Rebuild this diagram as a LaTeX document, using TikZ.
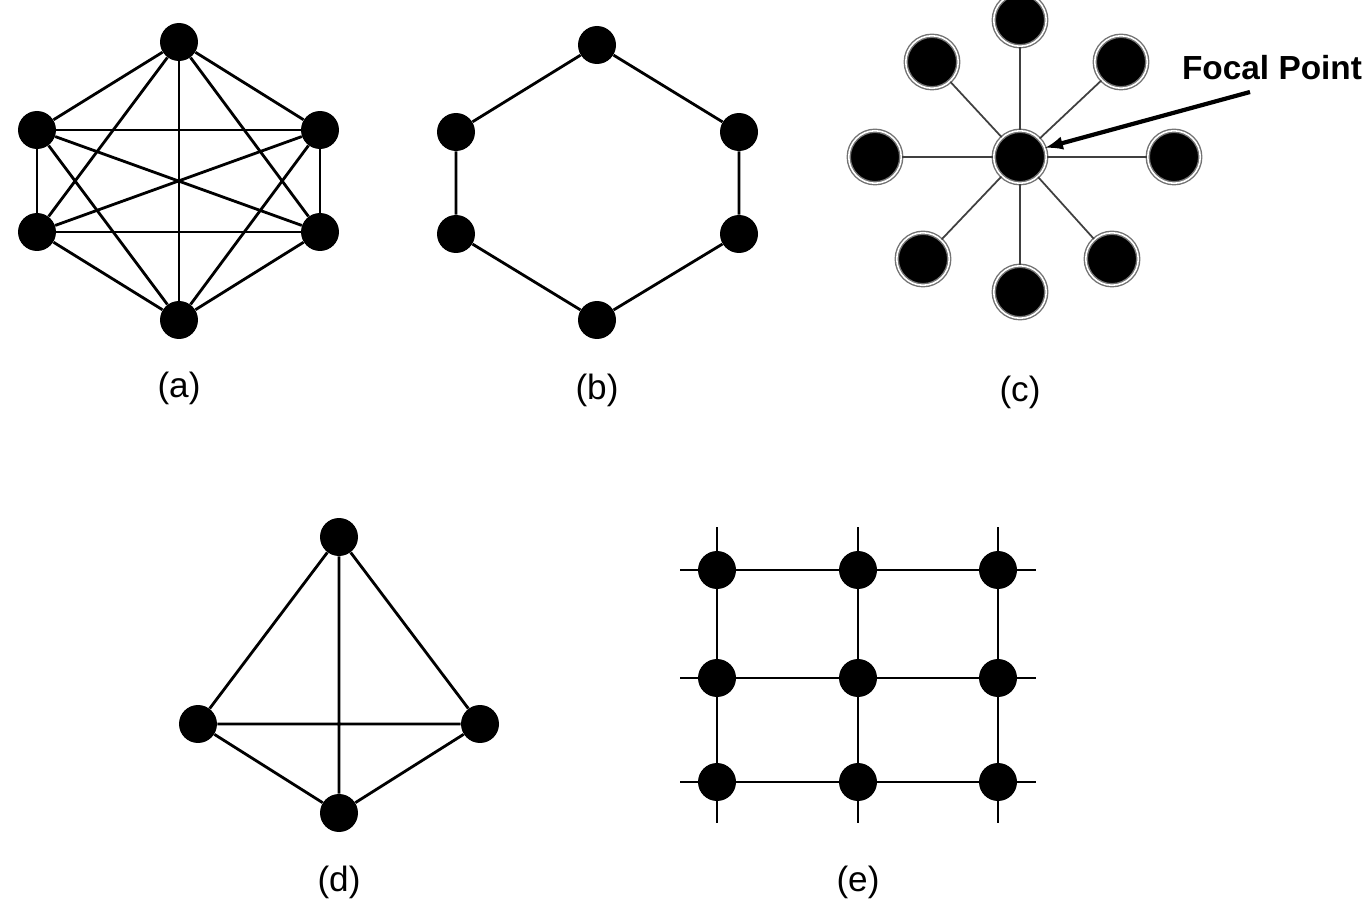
\documentclass[tikz,border=0pt]{standalone}
\usepackage{fontspec}
\setmainfont{Liberation Sans}
\usetikzlibrary{calc}
\begin{document}
\begin{tikzpicture}
	[x=0.02cm,y=-0.02cm,every node/.style={circle,fill=black,inner sep=0pt,minimum size=0.76cm}]
	\tikzstyle{edges} = [line width=1.6pt];
	\tikzstyle{spoke} = [line width=1pt,black!75];
	\tikzstyle{hub} = [circle,fill=black,draw=black!55,double=white,double distance=0.9pt,line width=0.8pt,minimum size=1.05cm];
	\tikzstyle{caption} = [fill=none,rectangle,minimum size=0pt,font=\fontsize{20}{24}\selectfont];
	\useasboundingbox (0,0) rectangle (1366,915);

	% (a) complete graph
	\node (a1) at (179,42) {};
	\node (a2) at (37,130) {};
	\node (a3) at (320,130) {};
	\node (a4) at (37,232) {};
	\node (a5) at (320,232) {};
	\node (a6) at (179,320) {};
	\foreach \i in {1,...,6}
		\foreach \j in {1,...,6}
			{\ifnum\i<\j \draw[edges] (a\i) -- (a\j); \fi}
	\node[caption] (la) at (179,388) {(a)};

	% (b) ring
	\node (b1) at (597,45) {};
	\node (b2) at (739,132) {};
	\node (b3) at (739,234) {};
	\node (b4) at (597,320) {};
	\node (b5) at (456,234) {};
	\node (b6) at (456,132) {};
	\draw[edges] (b1) -- (b2) -- (b3) -- (b4) -- (b5) -- (b6) -- (b1);
	\node[caption] (lb) at (597,390) {(b)};

	% (c) star
	\node[hub] (c0) at (1020,157) {};
	\node[hub] (c1) at (1020,20) {};
	\node[hub] (c2) at (1121,62) {};
	\node[hub] (c3) at (1174,157) {};
	\node[hub] (c4) at (1112,259) {};
	\node[hub] (c5) at (1020,292) {};
	\node[hub] (c6) at (923,259) {};
	\node[hub] (c7) at (875,157) {};
	\node[hub] (c8) at (932,62) {};
	\foreach \i in {1,...,8}
		\draw[spoke] (c0) -- (c\i);
	\node[caption,font=\fontsize{19}{22}\selectfont\bfseries] (fp) at (1272,68) {Focal Point};
	\coordinate (ft) at (1250,92);
	\draw[line width=2.4pt,-latex] (ft) -- (c0.20);
	\node[caption] (lc) at (1020,392) {(c)};

	% (d) tetrahedron
	\node (d1) at (339,537) {};
	\node (d2) at (198,724) {};
	\node (d3) at (480,724) {};
	\node (d4) at (339,813) {};
	\draw[edges] (d1) -- (d2) (d1) -- (d3) (d1) -- (d4)
		(d2) -- (d3) (d2) -- (d4) (d3) -- (d4);
	\node[caption] (ld) at (339,882) {(d)};

	% (e) mesh
	\foreach \x [count=\c] in {717,858,998}
		\foreach \y [count=\r] in {570,678,782}
			\node (e\r\c) at (\x,\y) {};
	\foreach \r/\y in {1/570,2/678,3/782}
		{\coordinate (eL\r) at (680,\y); \coordinate (eR\r) at (1036,\y);
		 \draw[edges] (eL\r) -- (e\r1) -- (e\r2) -- (e\r3) -- (eR\r);}
	\foreach \c/\x in {1/717,2/858,3/998}
		{\coordinate (eT\c) at (\x,527); \coordinate (eB\c) at (\x,823);
		 \draw[edges] (eT\c) -- (e1\c) -- (e2\c) -- (e3\c) -- (eB\c);}
	\node[caption] (le) at (858,882) {(e)};
\end{tikzpicture}
\end{document}
